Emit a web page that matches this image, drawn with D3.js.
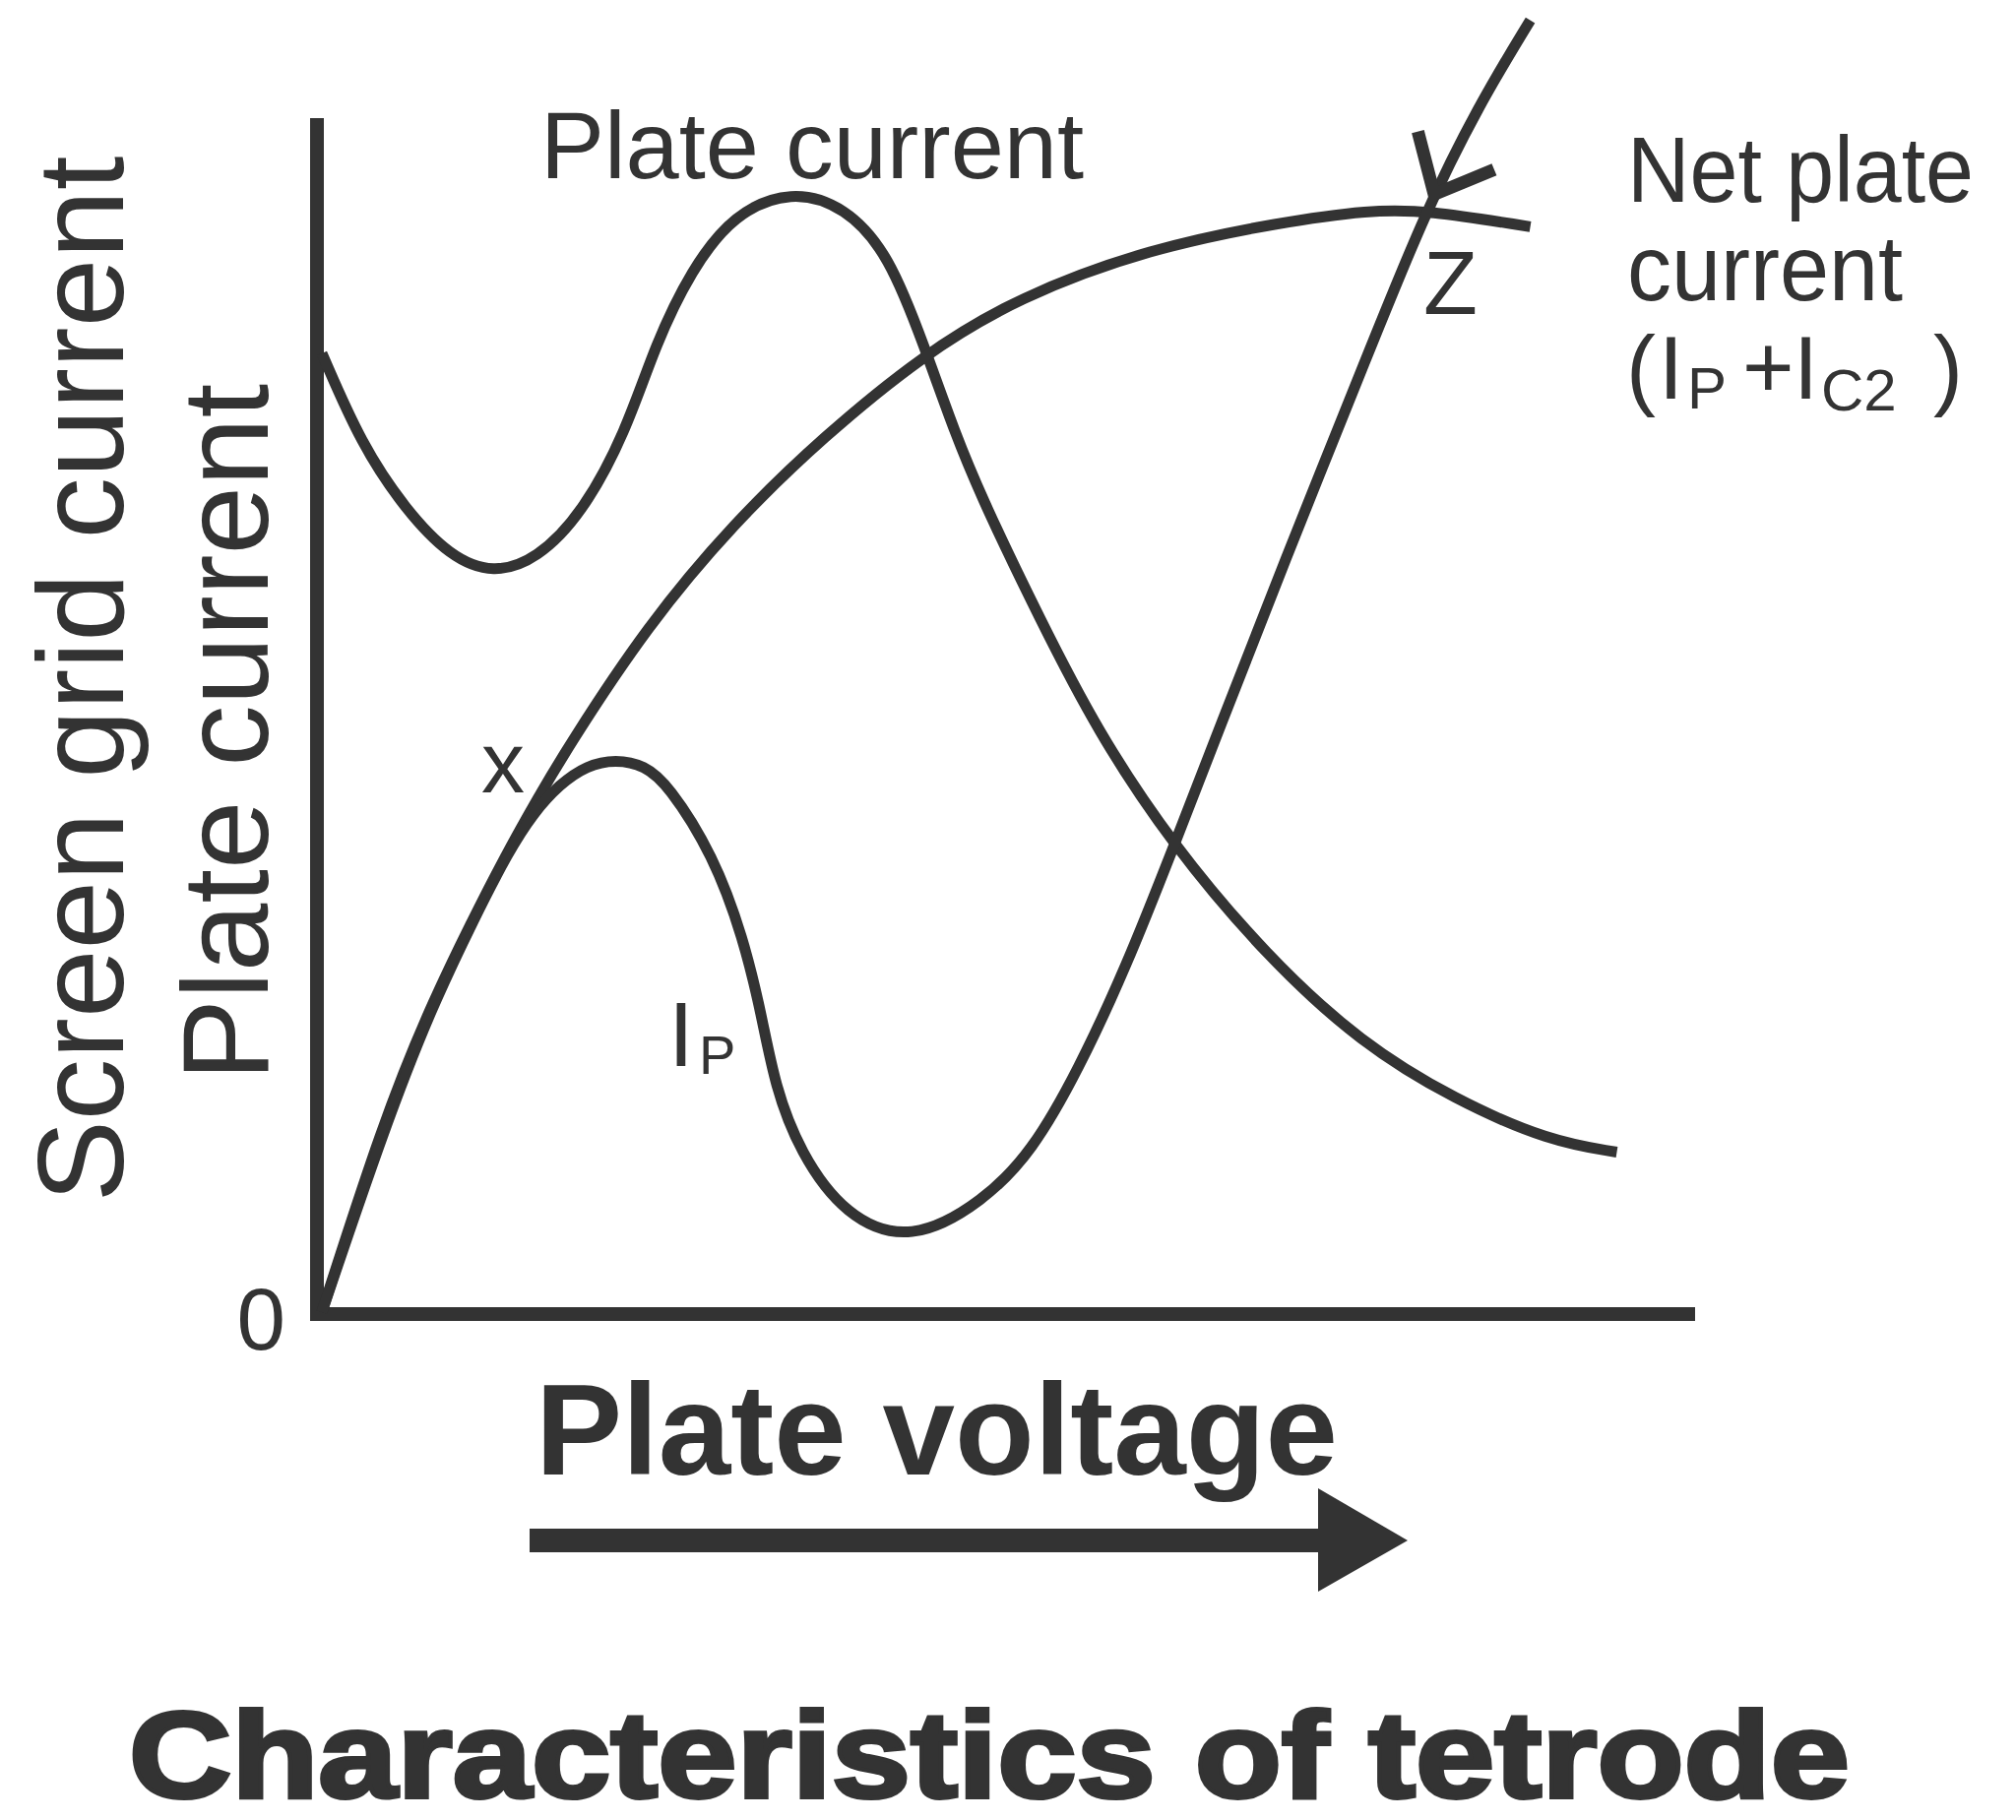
<!DOCTYPE html>
<html>
<head>
<meta charset="utf-8">
<script src="https://cdn.jsdelivr.net/npm/d3@7"></script>
<style>
body { margin: 0; background: #fff; }
text { font-family: "Liberation Sans", Arial, sans-serif; fill: #333; }
</style>
</head>
<body>
<div id="chart"></div>
<script>
// readings, arbitrary units (plate voltage 0-100, current 0-100)
var screenV = [0, 2.9, 6.1, 9.3, 12.5, 15.7, 18.9, 22.1, 24.3, 26.9, 30.0, 34.2, 38.1, 41.3, 43.9, 46.1, 48.2, 52.3, 56.5, 61.9, 68.8, 75.7, 82.5, 89.4, 94.3];
var screenI = [80.3, 72.6, 67.2, 63.3, 61.8, 63.1, 66.8, 73.6, 81.1, 87.3, 92.0, 94.0, 92.6, 88.6, 80.8, 73.6, 67.8, 58.0, 48.6, 39.2, 29.8, 22.5, 17.8, 14.3, 13.4];

var netV = [0, 4.4, 7.7, 10.9, 13.4, 15.7, 17.9, 23.7, 30.0, 36.5, 43.8, 50.7, 60.3, 69.9, 76.3, 80.4, 88.0];
var netI = [0, 15.7, 25.1, 32.7, 38.3, 43.0, 47.3, 57.5, 66.1, 73.3, 80.2, 85.0, 89.1, 91.3, 92.3, 92.3, 90.9];

var ipV = [0, 4.6, 7.9, 11.1, 13.6, 15.4, 17.3, 19.3, 21.4, 23.5, 25.2, 28.5, 30.7, 32.0, 33.0, 34.8, 38.1, 42.9, 48.2, 51.7, 55.1, 58.6, 61.9, 65.4, 69.9, 76.3, 80.3, 84.2, 88.0];
var ipI = [0, 15.6, 25.3, 33.0, 38.6, 41.8, 44.2, 45.8, 46.3, 45.8, 44.2, 38.3, 31.3, 25.0, 18.9, 13.4, 8.0, 5.8, 9.3, 13.4, 20.3, 29.0, 38.6, 49.0, 62.3, 80.6, 92.0, 101.0, 108.2];

var xTickLabels = ["0"];
var arrowV = 81.0;   // where the direction arrow sits on the IP curve

var width = 2048, height = 1849;
var ink = "#333";

var svg = d3.select("#chart").append("svg")
    .attr("width", width)
    .attr("height", height);

svg.append("rect").attr("width", width).attr("height", height).attr("fill", "#fff");

var x = d3.scaleLinear().domain([0, 100]).range([327, 1722]);
var y = d3.scaleLinear().domain([0, 100]).range([1333, 120]);

// axes
svg.append("line")
    .attr("x1", x(0) - 5).attr("x2", x(0) - 5)
    .attr("y1", y(100)).attr("y2", y(0) + 9)
    .style("stroke", ink).style("stroke-width", 14);
svg.append("line")
    .attr("x1", x(0) - 12).attr("x2", x(100))
    .attr("y1", y(0) + 2).attr("y2", y(0) + 2)
    .style("stroke", ink).style("stroke-width", 14);

svg.selectAll(".tick-label")
    .data(xTickLabels)
    .enter().append("text")
    .attr("class", "tick-label")
    .attr("x", x(0) - 37)
    .attr("y", y(0) + 38)
    .style("font-size", "89px")
    .style("text-anchor", "end")
    .text(function(d) { return d; });

// basis spline smooths out the jitter of hand-read points
var line = d3.line()
    .x(function(d) { return x(d[0]); })
    .y(function(d) { return y(d[1]); })
    .curve(d3.curveBasis);

var series = [d3.zip(screenV, screenI), d3.zip(netV, netI), d3.zip(ipV, ipI)];

svg.selectAll(".curve")
    .data(series)
    .enter().append("path")
    .attr("class", "curve")
    .attr("d", line)
    .style("fill", "none")
    .style("stroke", ink)
    .style("stroke-width", 11)
    .style("stroke-linecap", "butt");

// open arrowhead on the IP curve near Z
var ipAt = d3.scaleLinear().domain(ipV).range(ipI);
var tipX = x(arrowV), tipY = y(ipAt(arrowV));
var backX = x(arrowV + 2), backY = y(ipAt(arrowV + 2));
var back = Math.atan2(backY - tipY, backX - tipX);
var spread = 41 * Math.PI / 180, armLen = 66;
svg.append("path")
    .attr("d", "M" + (tipX + armLen * Math.cos(back - spread)) + "," + (tipY + armLen * Math.sin(back - spread))
        + "L" + tipX + "," + tipY
        + "L" + (tipX + armLen * Math.cos(back + spread)) + "," + (tipY + armLen * Math.sin(back + spread)))
    .style("fill", "none")
    .style("stroke", ink)
    .style("stroke-width", 13)
    .style("stroke-linejoin", "miter");

// labels
svg.append("text")
    .attr("x", 549).attr("y", 181)
    .style("font-size", "96px")
    .attr("textLength", 552).attr("lengthAdjust", "spacingAndGlyphs")
    .text("Plate current");

svg.append("text")
    .attr("transform", "translate(125,690) rotate(-90)")
    .style("font-size", "125px")
    .style("text-anchor", "middle")
    .text("Screen grid current");

svg.append("text")
    .attr("transform", "translate(272,744) rotate(-90)")
    .style("font-size", "125px")
    .style("text-anchor", "middle")
    .text("Plate current");

svg.append("text").attr("x", 1653).attr("y", 205)
    .style("font-size", "94px")
    .attr("textLength", 352).attr("lengthAdjust", "spacingAndGlyphs")
    .text("Net plate");
svg.append("text").attr("x", 1653).attr("y", 305)
    .style("font-size", "94px")
    .attr("textLength", 280).attr("lengthAdjust", "spacingAndGlyphs")
    .text("current");

var sumPieces = [
    ["(", 1652, 405, 90],
    ["I", 1685, 405, 90],
    ["P", 1714, 415, 60],
    ["+", 1770, 404, 90],
    ["I", 1822, 405, 90],
    ["C2", 1850, 417, 60],
    [")", 1964, 405, 90]
];
svg.selectAll(".sum-piece")
    .data(sumPieces)
    .enter().append("text")
    .attr("class", "sum-piece")
    .attr("x", function(d) { return d[1]; })
    .attr("y", function(d) { return d[2]; })
    .style("font-size", function(d) { return d[3] + "px"; })
    .text(function(d) { return d[0]; });

svg.append("text").attr("x", 1446).attr("y", 319).style("font-size", "90px").text("Z");
svg.append("text").attr("x", 489).attr("y", 805).style("font-size", "88px").text("x");

svg.append("text").attr("x", 679).attr("y", 1083).style("font-size", "93px").text("I");
svg.append("text").attr("x", 710).attr("y", 1091).style("font-size", "56px").text("P");

svg.append("text")
    .attr("x", 544).attr("y", 1498)
    .style("font-size", "132px").style("font-weight", "bold")
    .attr("textLength", 815).attr("lengthAdjust", "spacingAndGlyphs")
    .text("Plate voltage");

// direction arrow under the x label
svg.append("rect")
    .attr("x", 538).attr("y", 1553)
    .attr("width", 804).attr("height", 24)
    .style("fill", ink);
svg.append("path")
    .attr("d", "M1339,1512L1430,1565L1339,1617Z")
    .style("fill", ink);

svg.append("text")
    .attr("x", 131).attr("y", 1826)
    .style("font-size", "124px").style("font-weight", "bold")
    .style("stroke", ink).style("stroke-width", 4)
    .attr("textLength", 1748).attr("lengthAdjust", "spacingAndGlyphs")
    .text("Characteristics of tetrode");
</script>
</body>
</html>
